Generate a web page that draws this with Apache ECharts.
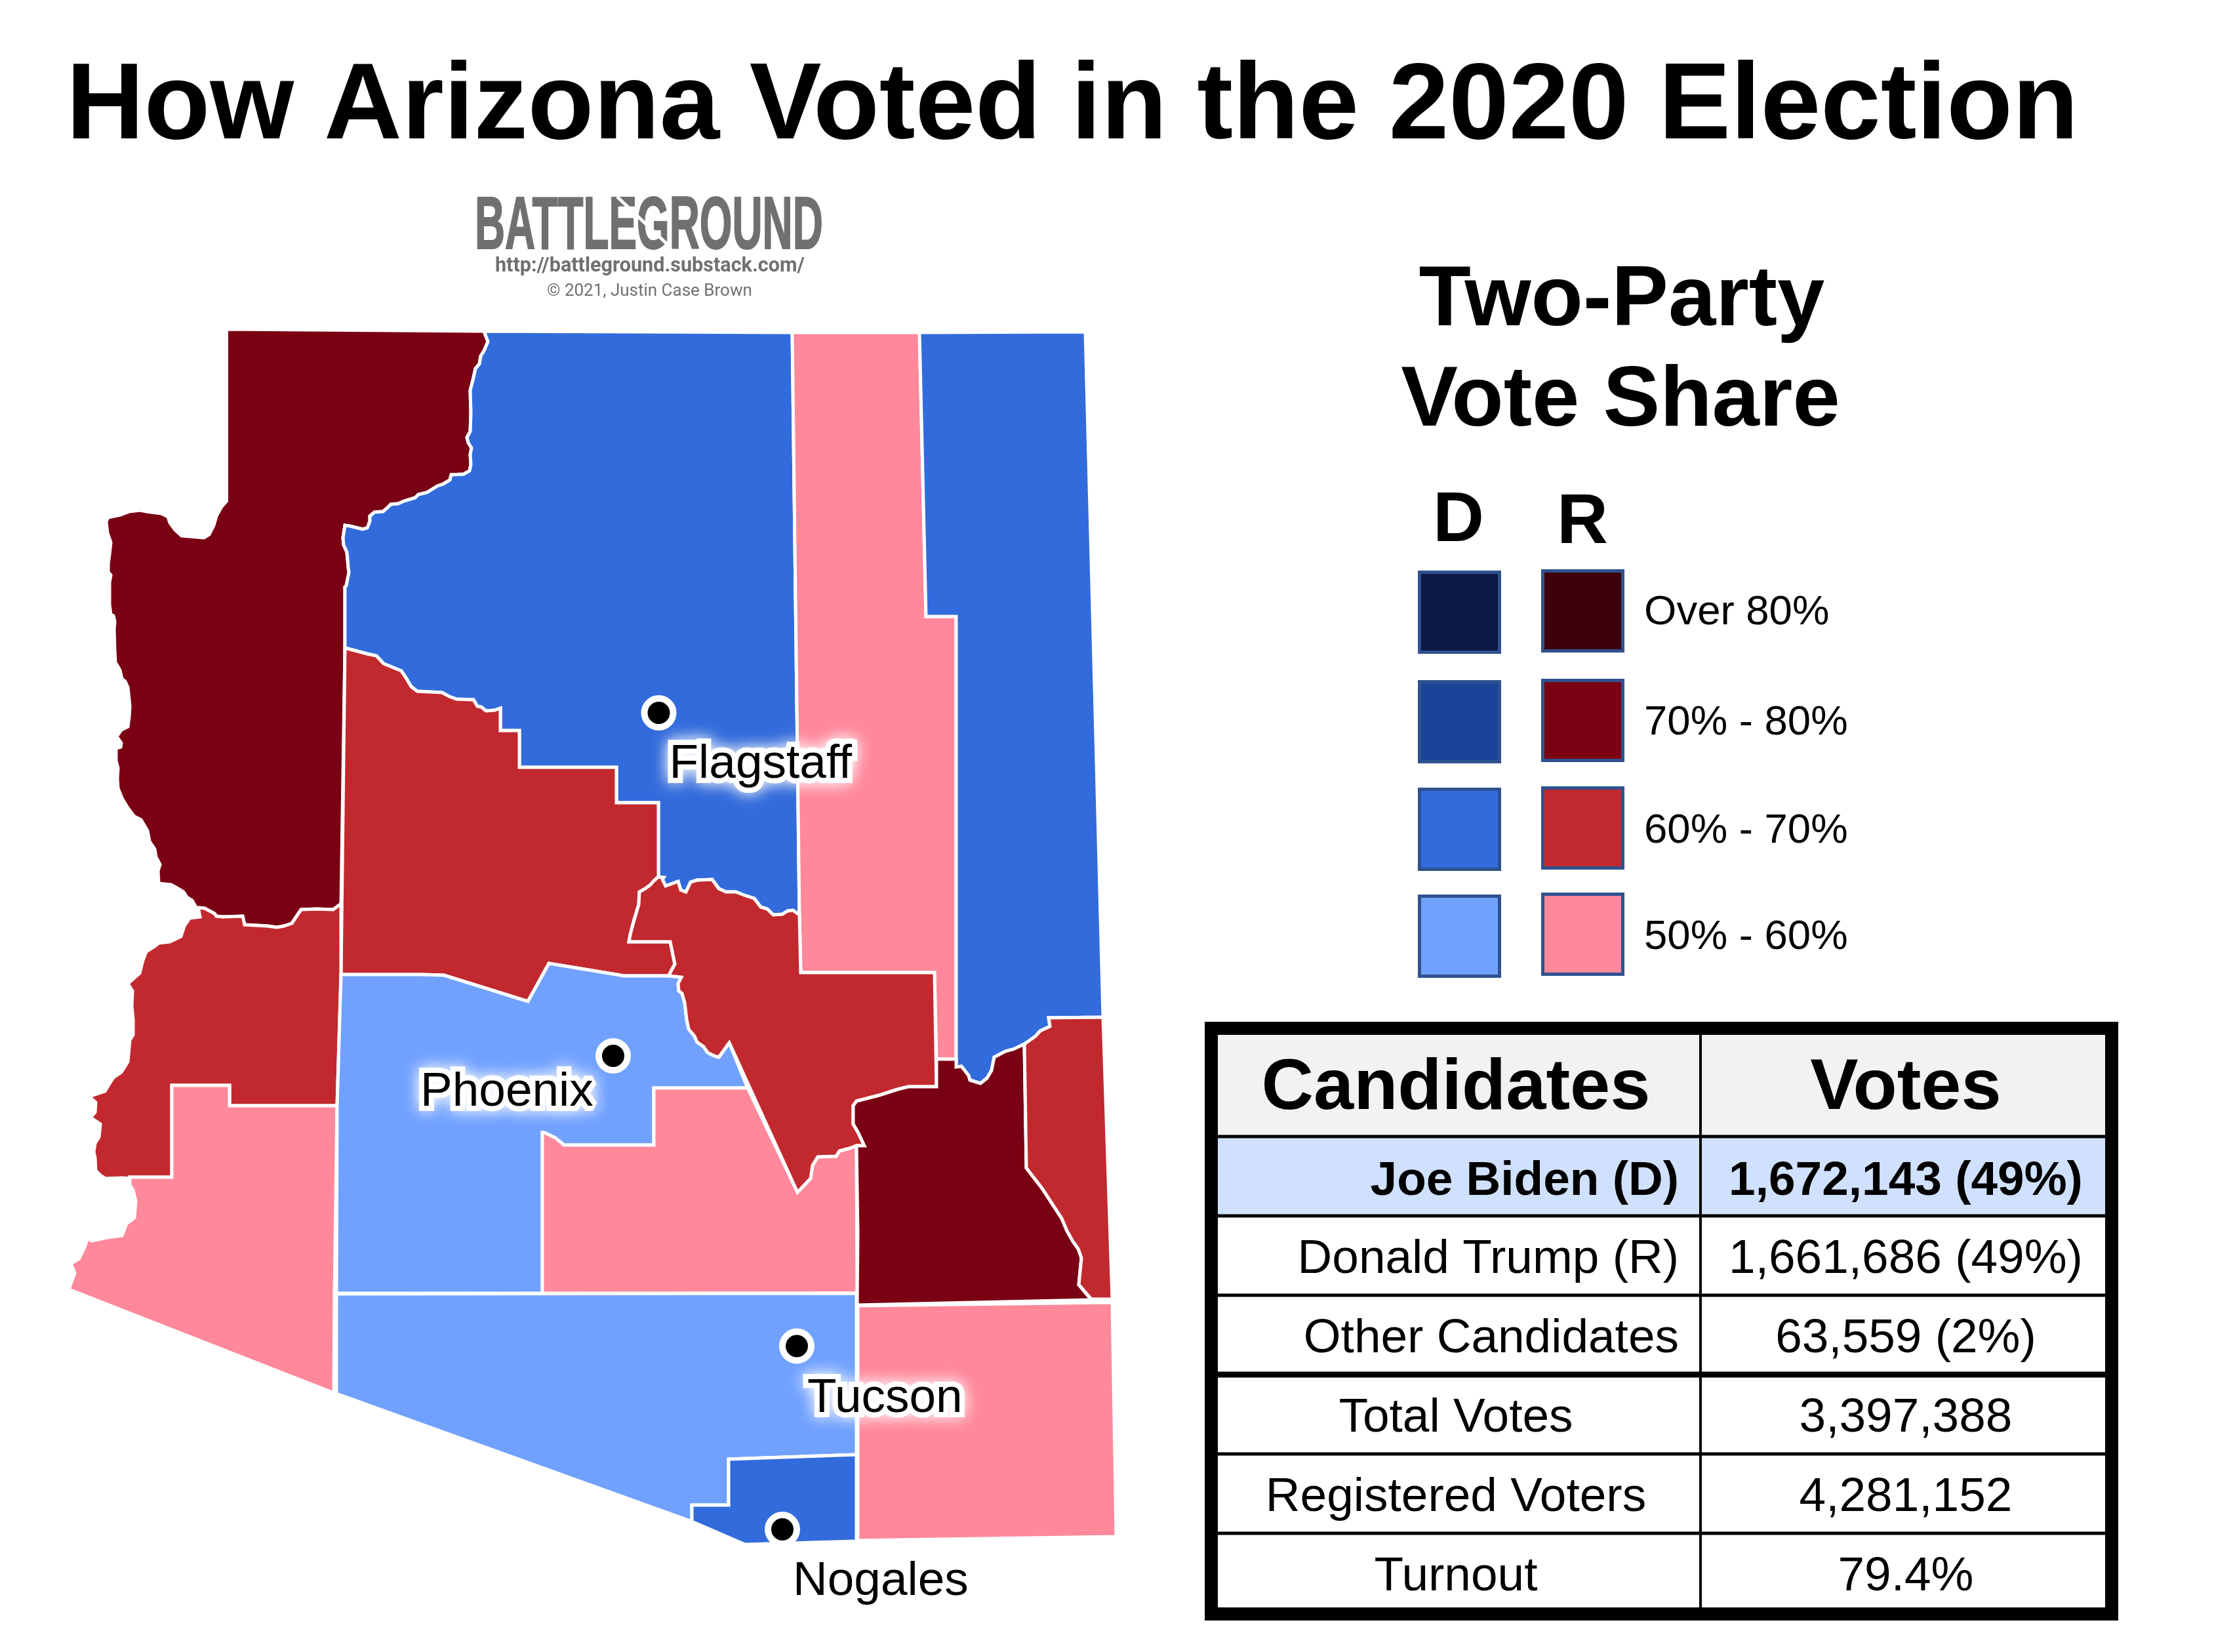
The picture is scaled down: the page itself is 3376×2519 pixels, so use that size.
<!DOCTYPE html>
<html>
<head>
<meta charset="utf-8">
<title>How Arizona Voted in the 2020 Election</title>
<script src="https://cdn.jsdelivr.net/npm/echarts@6/dist/echarts.min.js"></script>
<style>
html,body{margin:0;padding:0;background:#fff}
#chart{width:3376px;height:2519px}
</style>
</head>
<body>
<div id="chart"></div>
<script>
// legend bins and colours
const binLabels=['Over 80%','70% - 80%','60% - 70%','50% - 60%']
const demColors=['#0d1847','#1b4499','#326bdc','#70a1ff']
const repColors=['#3e000b','#7a0013','#c2292e','#ff889b']

// result per county: party and index into the bins above
const countyNames=['Mohave','Coconino','Navajo','Apache','Yavapai','La Paz','Yuma','Maricopa','Pinal','Gila','Graham','Greenlee','Pima','Santa Cruz','Cochise']
const countyParty=['R','D','R','D','R','R','R','D','R','R','R','R','D','D','R']
const countyBin=[1,2,3,2,2,2,3,3,3,2,1,2,3,2,3]

// cities
const cityNames=['Flagstaff','Phoenix','Tucson','Nogales']
const cityCoords=[[1004.5,1087],[935,1610],[1215,2052.5],[1193,2332]]
const cityLabelOffsets=[[16,79],[-294,56],[16,80],[16,80]]

// table
const tableHeader=['Candidates','Votes']
const tableLabels=['Joe Biden (D)','Donald Trump (R)','Other Candidates','Total Votes','Registered Voters','Turnout']
const tableValues=['1,672,143 (49%)','1,661,686 (49%)','63,559 (2%)','3,397,388','4,281,152','79.4%']

// county borders, shared between neighbours
const mohaveEast=[[738,505],[744,521],[738,535],[733,543],[731,555],[725,562],[721,580],[717,595],[718,630],[717,658],[712,667],[714,675],[719,683],[717,693],[718,708],[716,718],[707,723],[688,724],[686,732],[676,738],[667,741],[651,751],[638,754],[633,759],[616,764],[607,768],[596,769],[590,775],[584,780],[571,781],[564,787],[564,795],[560,805],[553,807],[533,802],[526,801],[523,820],[524,831],[529,842],[531,865],[532,873],[528,893],[526,895]]
const mohaveLaPaz=[[520,1378],[508,1387],[483,1386],[459,1387],[445,1408],[433,1412],[422,1414],[408,1412],[373,1410],[370,1397],[340,1398],[330,1397],[327,1393],[312,1385],[303,1384]]
const mohaveRiver=[[300,1385],[293,1373],[285,1368],[280,1360],[270,1354],[261,1349],[242,1347],[241,1328],[244,1318],[238,1307],[236,1295],[228,1283],[225,1267],[215,1250],[205,1245],[195,1232],[186,1217],[180,1202],[179,1187],[180,1171],[177,1160],[177,1141],[184,1139],[185,1133],[178,1123],[185,1113],[195,1108],[197,1093],[198,1077],[195,1048],[191,1039],[186,1035],[183,1022],[176,1010],[175,993],[174,960],[175,948],[173,939],[169,937],[167,922],[167,888],[169,877],[165,872],[165,860],[167,845],[169,827],[164,813],[162,795],[165,789],[184,785],[197,780],[214,778],[223,780],[246,783],[256,788],[259,797],[267,808],[277,817],[311,820],[319,815],[326,801],[330,787],[337,774],[345.5,764]]
const coconinoGila=[[1219,1395],[1209,1388],[1201,1389],[1193,1394],[1179,1395],[1170,1386],[1160,1383],[1150,1370],[1135,1365],[1122,1360],[1107,1360],[1096,1355],[1086,1341],[1063,1342],[1053,1345],[1046,1360],[1038,1357],[1034,1344],[1015,1351],[1010,1341],[1012,1338],[1004,1337]]
const coconinoYavapai=[[1004,1337],[1004,1224],[940,1224],[940,1170],[792,1170],[792,1114],[763,1114],[763,1080],[754,1083],[741,1084],[734,1078],[728,1077],[722,1067],[696,1066],[685,1062],[674,1056],[636,1054],[627,1047],[620,1035],[612,1023],[585,1012],[574,1000],[560,997],[526,988]]
const yavapaiGila=[[1004,1337],[997,1343],[992,1349],[984,1355],[975,1360],[974,1379],[966,1406],[961,1425],[959,1436],[1022,1436],[1029,1470],[1022,1483],[1020,1488]]
const maricopaTop=[[520,1486],[640,1486],[677,1487],[805,1527],[837,1469],[940,1486],[951,1488],[1020,1488]]
const gilaMaricopa=[[1020,1488],[1039,1490],[1034,1500],[1035,1511],[1040,1515],[1044,1529],[1047,1554],[1050,1569],[1059,1580],[1063,1589],[1073,1596],[1079,1605],[1089,1610],[1096,1612],[1112,1590]]
const gilaPinal=[[1216,1818],[1236,1797],[1239,1777],[1247,1764],[1275,1763],[1280,1755],[1295,1751],[1306,1747]]
const gilaGraham=[[1306,1747],[1318,1747],[1308,1726],[1301,1714],[1301,1686],[1306,1679],[1341,1670],[1369,1661],[1385,1657],[1428,1657]]
const apacheGraham=[[1562,1592],[1545,1600],[1533,1603],[1516,1612],[1512,1632],[1505,1644],[1495,1652],[1479,1647],[1477,1640],[1466,1626],[1458,1627],[1458,1615]]
const greenleeWest=[[1664,1981],[1645,1959],[1649,1918],[1644,1904],[1636,1893],[1627,1877],[1619,1858],[1589,1812],[1565,1781],[1562,1592]]
const greenleeApache=[[1562,1592],[1579,1580],[1586,1572],[1601,1565],[1599,1552]]
const maricopaPinalNotch=[[827,1727],[830,1727],[847,1735],[860,1746],[997,1746],[997,1659],[1140,1659]]
const laPazWest=[[198,1797],[187,1796],[161,1797],[153,1792],[146,1785],[145,1766],[143,1756],[145,1743],[151,1734],[153,1714],[138,1704],[145,1696],[146,1681],[136,1672],[160,1664],[166,1654],[173,1643],[185,1635],[195,1619],[198,1586],[203,1578],[203,1555],[201,1534],[202,1511],[195,1500],[213,1484],[218,1464],[223,1451],[236,1443],[242,1438],[259,1436],[276,1428],[281,1412],[289,1400],[305,1398],[303,1388],[301,1385]]
const laPazYuma=[[198,1795],[262,1795],[262,1655],[350,1655],[350,1686],[514,1686]]
const yumaWest=[[509,2124],[105,1966],[114,1941],[108,1927],[121,1919],[130,1899],[134,1888],[140,1892],[163,1887],[186,1884],[193,1866],[205,1857],[207,1831],[203,1815],[198,1807],[198,1795]]
const pimaSantaCruz=[[1306,2218],[1111,2225],[1111,2295],[1055,2295],[1055,2320]]
const rev=a=>a.slice().reverse()

const countyRings={
  'Mohave':[[345.5,502],...mohaveEast,[526,988],...mohaveLaPaz,...mohaveRiver],
  'Coconino':[[738,505],[1208,507],...coconinoGila,...coconinoYavapai.slice(1),...rev(mohaveEast)],
  'Navajo':[[1208,507],[1402,507],[1412,940],[1458,940],[1458,1615],[1428,1615],[1425,1483],[1221,1483],[1219,1395]],
  'Apache':[[1402,507],[1655,506],[1682,1551],...rev(greenleeApache),...apacheGraham,[1458,940],[1412,940]],
  'Yavapai':[[526,988],...rev(coconinoYavapai),...yavapaiGila.slice(1),...rev(maricopaTop)],
  'La Paz':[...rev(mohaveLaPaz),[520,1486],[514,1686],...rev(laPazYuma),...laPazWest],
  'Yuma':[...laPazYuma,[510,1972],...yumaWest],
  'Maricopa':[...maricopaTop,...gilaMaricopa.slice(1),...rev(maricopaPinalNotch),[827,1972],[513,1972],[514,1686]],
  'Pinal':[[1140,1659],...gilaPinal,[1307,1972],[827,1972],...maricopaPinalNotch],
  'Gila':[[1219,1395],[1221,1483],[1425,1483],[1428,1657],...rev(gilaGraham),...rev(gilaPinal),[1112,1590],...rev(gilaMaricopa),...rev(yavapaiGila),...rev(coconinoGila)],
  'Graham':[[1458,1615],[1428,1615],...rev(gilaGraham),[1308,1880],[1307,1990],[1664,1982],...greenleeWest,...apacheGraham],
  'Greenlee':[[1599,1552],[1682,1551],[1696,1981],...greenleeWest,...greenleeApache.slice(0,-1)],
  'Pima':[[513,1973],[1306,1972],...pimaSantaCruz,[513,2125]],
  'Santa Cruz':[...pimaSantaCruz,[1136,2355],[1306,2350]],
  'Cochise':[[1308,1991],[1696,1986],[1702,2343],[1308,2349]]
}

echarts.registerMap('arizona',{
  type:'FeatureCollection',
  features:countyNames.map(name=>({
    type:'Feature',
    properties:{name},
    geometry:{type:'Polygon',coordinates:[countyRings[name]]}
  }))
})

const FONT='"Liberation Sans", Arial, sans-serif'
const GREY='#707070'
// canvas middle baseline sits about this far above the alphabetic one
const baseY=(baseline,size)=>baseline-0.282*size

function label(text,x,baseline,size,opts={}){
  return {
    type:'text',z:opts.z||10,silent:true,x,y:baseY(baseline,size),scaleX:opts.scaleX||1,
    style:{text,fill:opts.fill||'#000',font:(opts.weight||'normal')+' '+size+'px '+(opts.family||FONT),align:opts.align||'center',verticalAlign:'middle',stroke:opts.stroke||null,lineWidth:opts.lineWidth||0}
  }
}
function box(x,y,w,h,fill,stroke,lineWidth){
  return {type:'rect',silent:true,z:5,shape:{x,y,width:w,height:h},style:{fill:fill||'transparent',stroke:stroke||null,lineWidth:lineWidth||0}}
}
function rule(x1,y1,x2,y2,width,color,z){
  return {type:'line',silent:true,z:z||6,shape:{x1,y1,x2,y2},style:{stroke:color||'#000',lineWidth:width}}
}

const graphics=[]

// logo
graphics.push(label('BATTLEGROUND',724,380,113,{align:'left',weight:'bold',fill:GREY,scaleX:0.565,stroke:GREY,lineWidth:2}))
graphics.push(rule(941,300,1019,374,5,'#fff',11))
graphics.push(label('http://battleground.substack.com/',755,415,32,{align:'left',weight:'bold',fill:GREY,family:'Roboto, sans-serif',scaleX:0.955}))
graphics.push(label('\u00a9 2021, Justin Case Brown',834,452,26,{align:'left',fill:GREY,family:'Roboto, sans-serif'}))

// legend
graphics.push(label('Two-Party',2473,497,130,{weight:'bold'}))
graphics.push(label('Vote Share',2471,650,130,{weight:'bold'}))
graphics.push(label('D',2224,826,108,{weight:'bold'}))
graphics.push(label('R',2413,829,108,{weight:'bold'}))
const demRowTops=[870,1037,1201,1364]
const repRowTops=[868,1035,1199,1361]
const binBaselines=[952,1120,1285,1447]
binLabels.forEach((t,i)=>{
  graphics.push(box(2164.5,demRowTops[i]+2.5,122,122,demColors[i],'#2f528f',5))
  graphics.push(box(2352.5,repRowTops[i]+2.5,122,122,repColors[i],'#2f528f',5))
  graphics.push(label(t,2507,binBaselines[i],63.5,{align:'left'}))
})

// table
const rowLines=[1578,1733,1854,1975,2096,2217,2338,2451]
const rowBaselines=[1822,1941,2062,2183,2304,2425]
graphics.push(box(1857,1578,1353,155,'#f2f2f2'))
graphics.push(box(1857,1733,1353,121,'#d0e1fd'))
graphics.push(rule(2593,1578,2593,2451,4))
rowLines.slice(1,-1).forEach((y,i)=>graphics.push(rule(1857,y,3210,y,i===3?9:5)))
graphics.push(box(1847,1568,1373,893,null,'#000',20))
graphics.push(label(tableHeader[0],2220,1692,110,{weight:'bold'}))
graphics.push(label(tableHeader[1],2906,1692,110,{weight:'bold'}))
tableLabels.forEach((t,i)=>{
  const weight=i===0?'bold':'normal'
  graphics.push(i<3
    ? label(t,2560,rowBaselines[i],73,{align:'right',weight})
    : label(t,2220,rowBaselines[i],73))
  graphics.push(label(tableValues[i],2906,rowBaselines[i],73,{weight}))
})

const chart=echarts.init(document.getElementById('chart'),null,{renderer:'canvas'})
chart.setOption({
  animation:false,
  backgroundColor:'#fff',
  title:{
    text:'How Arizona Voted in the 2020 Election',
    left:96,
    top:78,
    textStyle:{fontFamily:FONT,fontWeight:'bold',fontSize:164.5,color:'#000'}
  },
  tooltip:{show:false},
  geo:{
    map:'arizona',
    roam:false,
    silent:true,
    left:0,top:0,right:0,bottom:0,
    boundingCoords:[[0,0],[3376,2519]],
    projection:{project:p=>p,unproject:p=>p},
    label:{show:false},
    itemStyle:{borderColor:'#fff',borderWidth:5},
    regions:countyNames.map((name,i)=>({
      name,
      itemStyle:{areaColor:(countyParty[i]==='D'?demColors:repColors)[countyBin[i]]}
    }))
  },
  series:[{
    type:'scatter',
    coordinateSystem:'geo',
    silent:true,
    symbol:'circle',
    symbolSize:44,
    itemStyle:{color:'#000',borderColor:'#fff',borderWidth:10,opacity:1},
    data:cityNames.map((name,i)=>({
      name,
      value:cityCoords[i],
      label:{offset:cityLabelOffsets[i]}
    })),
    label:{
      show:true,
      position:'inside',
      align:'left',
      verticalAlign:'middle',
      formatter:'{b}',
      fontFamily:FONT,
      fontSize:73,
      color:'#000',
      textBorderColor:'#fff',
      textBorderWidth:16,
      textShadowColor:'#fff',
      textShadowBlur:24
    }
  }],
  graphic:graphics
})
</script>
</body>
</html>
